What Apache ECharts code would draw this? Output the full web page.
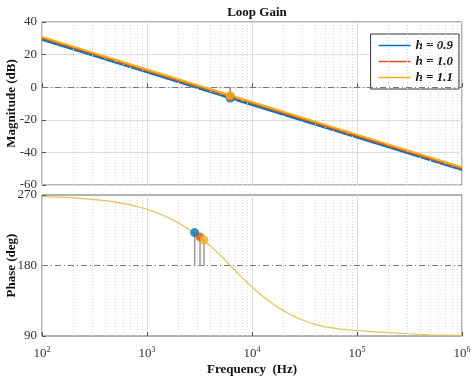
<!DOCTYPE html>
<html>
<head>
<meta charset="utf-8">
<script src="https://cdn.jsdelivr.net/npm/echarts@6/dist/echarts.min.js"></script>
<style>
  html, body { margin: 0; padding: 0; background: #fff; }
  #chart { width: 474px; height: 377px; }
</style>
</head>
<body>
<div id="chart"></div>
<script>
// values
const seriesNames = ['h = 0.9', 'h = 1.0', 'h = 1.1']
const colors = ['#0072BD', '#D95319', '#EDB120']

const freqMag = [100, 1000, 10000, 100000, 1000000]
const magH09 = [29.1, 9.1, -10.9, -30.9, -50.9]
const magH10 = [30.1, 10.1, -9.9, -29.9, -49.9]
const magH11 = [30.9, 10.9, -9.1, -29.1, -49.1]

// phase is the same for all three h, only one curve shows
const freqPhase = [100, 150, 200, 300, 400, 500, 700, 1000, 1300, 1600, 2000, 2500, 3000, 3500,
  4000, 5000, 6200, 7000, 8000, 9000, 10000, 12000, 15000, 18000, 22000, 27000, 33000,
  40000, 50000, 70000, 100000, 150000, 200000, 300000, 500000, 1000000]
const phase = [268, 267.2, 266.3, 264.5, 262.7, 260.9, 257.3, 251.8, 246.3, 241, 234.3, 226.2,
  218.6, 211.5, 205, 193.2, 180.3, 172.8, 164.9, 158.3, 152.7, 143.3, 133, 125.9, 119,
  113.1, 108.5, 104.8, 101.7, 98.8, 97, 95.3, 94.3, 92.9, 91.5, 90.7]

// gain margin point (phase crossover) and phase margin points (gain crossover)
const gmFreq = 6200
const gmMag = [-6.6, -5.8, -5.1]
const pmFreq = [2845, 3200, 3490]
const pmPhase = [222, 216.5, 212.5]

const minorFreqs = []
for (let d = 100; d < 1000000; d *= 10) {
  for (let k = 2; k <= 9; k++) minorFreqs.push(d * k)
}

const serif = 'Liberation Serif'
const magData = [magH09, magH10, magH11]

const dashDot = { color: '#777', width: 1, type: [6, 3, 1, 3] }
const minorLines = {
  silent: true, symbol: 'none', label: { show: false },
  lineStyle: { color: '#d8d8d8', width: 1, type: [1, 2] },
  data: minorFreqs.map(f => ({ xAxis: f }))
}

const xAxisBase = {
  type: 'log', logBase: 10, min: 100, max: 1000000,
  axisLine: { show: false },
  axisTick: { inside: true, length: 4, lineStyle: { color: '#555' } },
  splitLine: { show: true, lineStyle: { color: '#dcdcdc' } }
}

const series = []
magData.forEach((vals, i) => {
  series.push({
    name: seriesNames[i], type: 'line', xAxisIndex: 0, yAxisIndex: 0,
    data: freqMag.map((f, j) => [f, vals[j]]),
    symbol: 'none', lineStyle: { color: colors[i], width: 2 }, itemStyle: { color: colors[i] },
    z: 3 + i
  })
})
// minor grid + 0 dB line
series[0].markLine = minorLines
series.push({
  type: 'line', xAxisIndex: 0, yAxisIndex: 0, data: [], silent: true,
  markLine: { silent: true, symbol: 'none', label: { show: false }, lineStyle: dashDot, data: [{ yAxis: 0 }] }
})
// gain margin stem + markers
series.push({
  type: 'line', xAxisIndex: 0, yAxisIndex: 0, symbol: 'none', silent: true,
  data: [[gmFreq, 0], [gmFreq, gmMag[1]]],
  lineStyle: { color: '#888', width: 1.5 }, z: 6
})
gmMag.forEach((m, i) => {
  series.push({
    type: 'scatter', xAxisIndex: 0, yAxisIndex: 0, data: [[gmFreq, m]],
    symbolSize: 9, itemStyle: { color: colors[i] }, z: 7 + i
  })
})

// phase
series.push({
  name: 'phase', type: 'line', xAxisIndex: 1, yAxisIndex: 1,
  data: freqPhase.map((f, j) => [f, phase[j]]),
  symbol: 'none',
  lineStyle: { color: '#e3c25a', width: 1.2 }, z: 5,
  markLine: minorLines
})
series.push({
  type: 'line', xAxisIndex: 1, yAxisIndex: 1, data: [], silent: true,
  markLine: { silent: true, symbol: 'none', label: { show: false }, lineStyle: dashDot, data: [{ yAxis: 180 }] }
})
pmFreq.forEach((f, i) => {
  series.push({
    type: 'line', xAxisIndex: 1, yAxisIndex: 1, symbol: 'none', silent: true,
    data: [[f, 180], [f, pmPhase[i]]],
    lineStyle: { color: '#999', width: 1.5 }, z: 6
  })
})
pmFreq.forEach((f, i) => {
  series.push({
    type: 'scatter', xAxisIndex: 1, yAxisIndex: 1, data: [[f, pmPhase[i]]],
    symbolSize: 9, itemStyle: { color: colors[i] }, z: 7 + i
  })
})

const yNameStyle = { fontFamily: serif, fontWeight: 'bold', fontSize: 13, color: '#111' }

const chart = echarts.init(document.getElementById('chart'))
chart.setOption({
  animation: false,
  backgroundColor: '#fff',
  title: {
    text: 'Loop Gain', left: 252, top: 1, textAlign: 'center',
    textStyle: { fontFamily: serif, fontWeight: 'bold', fontSize: 13, color: '#111' }
  },
  legend: {
    data: seriesNames, orient: 'vertical', right: 15, top: 34,
    icon: 'rect', itemWidth: 32, itemHeight: 1.5, itemGap: 3,
    backgroundColor: '#fff', borderColor: '#333', borderWidth: 1, padding: [5, 6, 5, 8],
    textStyle: { fontFamily: serif, fontStyle: 'italic', fontWeight: 'bold', fontSize: 13, color: '#111' }
  },
  grid: [
    { left: 42, right: 12, top: 22, height: 163, show: true, borderColor: '#666', borderWidth: 1, outerBoundsMode: 'none' },
    { left: 42, right: 12, top: 195, height: 141, show: true, borderColor: '#666', borderWidth: 1, outerBoundsMode: 'none' }
  ],
  xAxis: [
    Object.assign({}, xAxisBase, { gridIndex: 0, axisLabel: { show: false } }),
    Object.assign({}, xAxisBase, {
      gridIndex: 1,
      name: 'Frequency  (Hz)', nameLocation: 'middle', nameGap: 27, nameMoveOverlap: false,
      nameTextStyle: { fontFamily: serif, fontWeight: 'bold', fontSize: 13, color: '#111' },
      axisLabel: {
        margin: 10, color: '#333', fontFamily: serif, fontSize: 13,
        formatter: v => '10{s|' + Math.round(Math.log10(v)) + '}',
        rich: { s: { fontSize: 8, fontFamily: serif, color: '#333', verticalAlign: 'top', padding: [0, 0, 7, 0] } }
      }
    })
  ],
  yAxis: [
    {
      gridIndex: 0, type: 'value', min: -60, max: 40, interval: 20,
      name: 'Magnitude (dB)', nameLocation: 'middle', nameGap: 24, nameMoveOverlap: false,
      nameTextStyle: yNameStyle,
      axisLine: { show: false },
      axisTick: { inside: true, length: 4, lineStyle: { color: '#555' } },
      axisLabel: { color: '#333', fontFamily: serif, fontSize: 13, margin: 5 },
      splitLine: { show: true, lineStyle: { color: '#dcdcdc' } }
    },
    {
      gridIndex: 1, type: 'value', min: 90, max: 270, interval: 90,
      name: 'Phase (deg)', nameLocation: 'middle', nameGap: 24, nameMoveOverlap: false,
      nameTextStyle: yNameStyle,
      axisLine: { show: false },
      axisTick: { inside: true, length: 4, lineStyle: { color: '#555' } },
      axisLabel: { color: '#333', fontFamily: serif, fontSize: 13, margin: 5 },
      splitLine: { show: false }
    }
  ],
  series: series
})
</script>
</body>
</html>
